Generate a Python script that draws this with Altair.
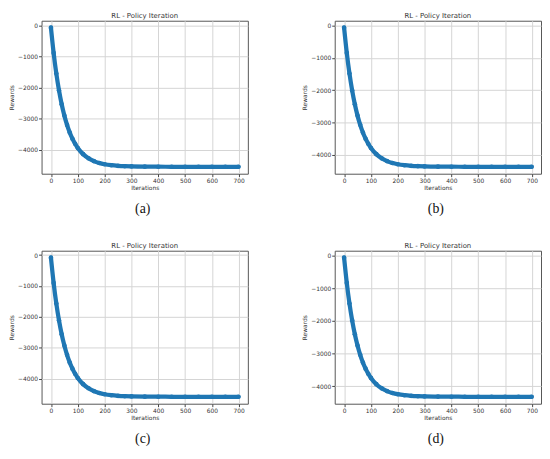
import altair as alt
import pandas as pd

iterations = [0, 10, 20, 30, 40, 50, 60, 70, 80, 90, 100, 120, 140, 160, 180, 200,
              225, 250, 275, 300, 350, 400, 450, 500, 550, 600, 650, 699]

rewards_a = [-80, -889, -1550, -2092, -2536, -2899, -3197, -3440, -3640, -3803, -3937,
             -4135, -4269, -4358, -4418, -4458, -4490, -4510, -4522, -4529, -4536, -4538,
             -4540, -4540, -4540, -4540, -4540, -4540]
rewards_b = [-70, -849, -1486, -2008, -2435, -2785, -3071, -3306, -3498, -3655, -3784,
             -3975, -4104, -4190, -4248, -4286, -4317, -4336, -4347, -4354, -4361, -4363,
             -4365, -4365, -4365, -4365, -4365, -4365]
rewards_c = [-85, -900, -1567, -2113, -2560, -2926, -3226, -3472, -3672, -3837, -3972,
             -4172, -4307, -4397, -4457, -4498, -4530, -4550, -4562, -4569, -4576, -4578,
             -4580, -4580, -4580, -4580, -4580, -4580]
rewards_d = [-70, -841, -1471, -1988, -2410, -2756, -3040, -3272, -3462, -3617, -3745,
             -3935, -4062, -4147, -4204, -4242, -4273, -4292, -4303, -4309, -4316, -4318,
             -4320, -4320, -4320, -4320, -4320, -4320]

captions = ["(a)", "(b)", "(c)", "(d)"]
x_ticks = [0, 100, 200, 300, 400, 500, 600, 700]
y_ticks = [0, -1000, -2000, -3000, -4000]
title_text = "RL - Policy Iteration"

W, H = 209, 155
BLUE = "#1f77b4"


def panel(rewards, caption):
    df = pd.DataFrame({"Iterations": iterations, "Rewards": rewards})
    lo, hi = min(rewards), max(rewards)
    r = hi - lo
    x = alt.X("Iterations:Q",
              scale=alt.Scale(domain=[-35, 734], nice=False, zero=False),
              axis=alt.Axis(values=x_ticks, title="Iterations", format="d"))
    y = alt.Y("Rewards:Q",
              scale=alt.Scale(domain=[lo - 0.05 * r, hi + 0.05 * r], nice=False, zero=False),
              axis=alt.Axis(values=y_ticks, title="Rewards", format="d"))
    base = alt.Chart(df).encode(x=x, y=y)
    line = base.mark_line(color=BLUE, strokeWidth=4.3, strokeCap="round",
                          strokeJoin="round", interpolate="monotone")
    pts = base.mark_circle(color=BLUE, size=22, opacity=1)
    cap = alt.Chart(pd.DataFrame({"c": [caption]})).mark_text(
        font="Liberation Serif", fontSize=14, baseline="middle", align="center",
        color="#111").encode(text="c:N", x=alt.value(W / 2 - 2), y=alt.value(H + 36))
    return alt.layer(line, pts, cap).properties(
        width=W, height=H,
        title=alt.TitleParams(title_text, fontSize=7, font="DejaVu Sans",
                              fontWeight="normal", color="#333", offset=2))


charts = [panel(v, c) for v, c in zip([rewards_a, rewards_b, rewards_c, rewards_d], captions)]

chart = alt.concat(*charts, columns=2, spacing={"row": 78, "column": 88},
                   bounds="flush").properties(padding=0, background="white").configure_axis(
    labelFont="DejaVu Sans", labelFontSize=6, labelColor="#333",
    titleFont="DejaVu Sans", titleFontSize=6, titleFontWeight="normal", titleColor="#333",
    grid=True, gridColor="#d4d4d4", gridWidth=1, domain=False,
    tickColor="#444", tickSize=3, labelPadding=1,
).configure_axisX(titlePadding=1).configure_axisY(titlePadding=3).configure_view(
    stroke="#555", strokeWidth=1
)

chart.save("out.html", embed_options={"renderer": "svg", "actions": False})
